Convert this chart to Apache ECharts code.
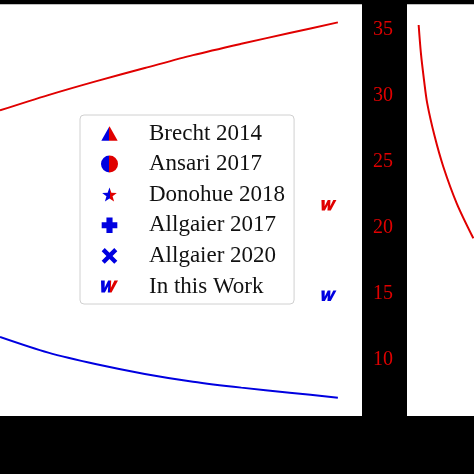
<!DOCTYPE html>
<html>
    <head>
        <meta charset="utf-8">
        <script src="https://cdn.jsdelivr.net/npm/echarts@6/dist/echarts.min.js"></script>
        <style>
            html, body { margin: 0; padding: 0; background: #000; }
            #main { width: 474px; height: 474px; }
        </style>
    </head>
    <body>
        <div id="main"></div>
        <script>

        // left panel curves (x is arbitrary, hidden axis)
        var xLeft = [0, 2, 4, 6, 8, 10, 12, 14];
        var redLeft = [28.86, 30.02, 31.08, 32.07, 33.05, 33.91, 34.72, 35.53];
        var blueLeft = [11.69, 10.50, 9.62, 8.89, 8.30, 7.85, 7.47, 7.09];

        // right panel curve
        var xRight = [0.87, 1.04, 1.27, 1.51, 2.05, 2.71, 3.71, 4.95];
        var redRight = [35.33, 33.18, 31.16, 29.39, 26.95, 24.59, 21.82, 19.17];

        // "In this Work" markers
        var workRed = [[13.63, 21.67]];
        var workBlue = [[13.63, 14.81]];

        var yTicks = [10, 15, 20, 25, 30, 35];
        var legendNames = ['Brecht 2014', 'Ansari 2017', 'Donohue 2018', 'Allgaier 2017', 'Allgaier 2020', 'In this Work'];

        var RED = '#e00000';
        var BLUE = '#0000e0';

        function split(at) {
            return {
                type: 'linear', x: 0, y: 0, x2: 1, y2: 0,
                colorStops: [
                    { offset: 0, color: BLUE }, { offset: at, color: BLUE },
                    { offset: at, color: RED }, { offset: 1, color: RED }
                ]
            };
        }

        // corner moveTo's keep every icon on a square box
        var BOX = 'M0,0M100,100';
        var icons = {
            tri: 'path://' + BOX + 'M50,8L98,92L2,92Z',
            star: 'path://' + BOX + 'M50,8L61,38.5L93,39.5L68,59L77,90L50,72L23,90L32,59L7,39.5L39,38.5Z',
            plus: 'path://' + BOX + 'M32,4H68V32H96V68H68V96H32V68H4V32H32Z',
            cross: 'path://' + BOX + 'M4,22L22,4L50,32L78,4L96,22L68,50L96,78L78,96L50,68L22,96L4,78L32,50Z',
            w: 'path://M0,-15M100,85M0,0L22,0L21.5,42L42,0L60,0L58,42L79,0L100,0L62,70L40,70L42.5,33L23,70L2,70Z'
        };

        var chart = echarts.init(document.getElementById('main'));

        var legendStyles = [
            { icon: icons.tri, color: split(0.5) },
            { icon: 'circle', color: split(0.5) },
            { icon: icons.star, color: split(0.55) },
            { icon: icons.plus, color: BLUE },
            { icon: icons.cross, color: BLUE },
            { icon: icons.w, color: split(0.55) }
        ];

        var series = [
            { type: 'line', xAxisIndex: 0, yAxisIndex: 0, data: xLeft.map(function (x, i) { return [x, redLeft[i]]; }),
              showSymbol: false, smooth: 0.3, lineStyle: { color: RED, width: 2 }, silent: true },
            { type: 'line', xAxisIndex: 0, yAxisIndex: 0, data: xLeft.map(function (x, i) { return [x, blueLeft[i]]; }),
              showSymbol: false, smooth: 0.3, lineStyle: { color: BLUE, width: 2 }, silent: true },
            { type: 'line', xAxisIndex: 1, yAxisIndex: 1, data: xRight.map(function (x, i) { return [x, redRight[i]]; }),
              showSymbol: false, smooth: 0.3, lineStyle: { color: RED, width: 2 }, silent: true }
        ];
        legendNames.slice(0, 5).forEach(function (n) {
            series.push({ type: 'scatter', name: n, data: [] });
        });
        series.push({ type: 'scatter', name: 'In this Work', data: workRed, symbol: icons.w, symbolSize: 15,
            itemStyle: { color: RED, opacity: 1 } });
        series.push({ type: 'scatter', name: 'In this Work', data: workBlue, symbol: icons.w, symbolSize: 15,
            itemStyle: { color: BLUE, opacity: 1 } });

        chart.setOption({
            backgroundColor: '#000',
            animation: false,
            grid: [
                { left: 0, top: 4.3, width: 362, bottom: 58, show: true, backgroundColor: '#fff', borderWidth: 0 },
                { left: 407, top: 4.3, right: 0, bottom: 58, show: true, backgroundColor: '#fff', borderWidth: 0 }
            ],
            xAxis: [
                { type: 'value', gridIndex: 0, min: 0, max: 15, show: false },
                { type: 'value', gridIndex: 1, min: 0, max: 5, show: false }
            ],
            yAxis: [
                {
                    type: 'value', gridIndex: 0, position: 'right', min: 5.7, max: 36.9,
                    axisLine: { show: false }, axisTick: { show: false }, splitLine: { show: false },
                    axisLabel: {
                        customValues: yTicks, margin: 11, color: RED,
                        fontFamily: 'Liberation Serif', fontSize: 20
                    }
                },
                { type: 'value', gridIndex: 1, min: 5.7, max: 36.9, show: false }
            ],
            legend: {
                orient: 'vertical',
                left: 80,
                top: 115,
                padding: [6.5, 9, 5.5, 21],
                itemWidth: 17,
                itemHeight: 17,
                itemGap: 6.6,
                backgroundColor: '#fff',
                borderColor: '#d0d0d0',
                borderWidth: 1,
                borderRadius: 4,
                selectedMode: false,
                textStyle: {
                    fontFamily: 'Liberation Serif', fontSize: 23, color: '#111',
                    lineHeight: 24, padding: [0, 0, 0, 26]
                },
                data: legendNames.map(function (n, i) {
                    return { name: n, icon: legendStyles[i].icon,
                        itemStyle: { color: legendStyles[i].color, opacity: 1, borderWidth: 0 } };
                })
            },
            series: series
        });

        window.onresize = chart.resize;

        </script>
    </body>
</html>
